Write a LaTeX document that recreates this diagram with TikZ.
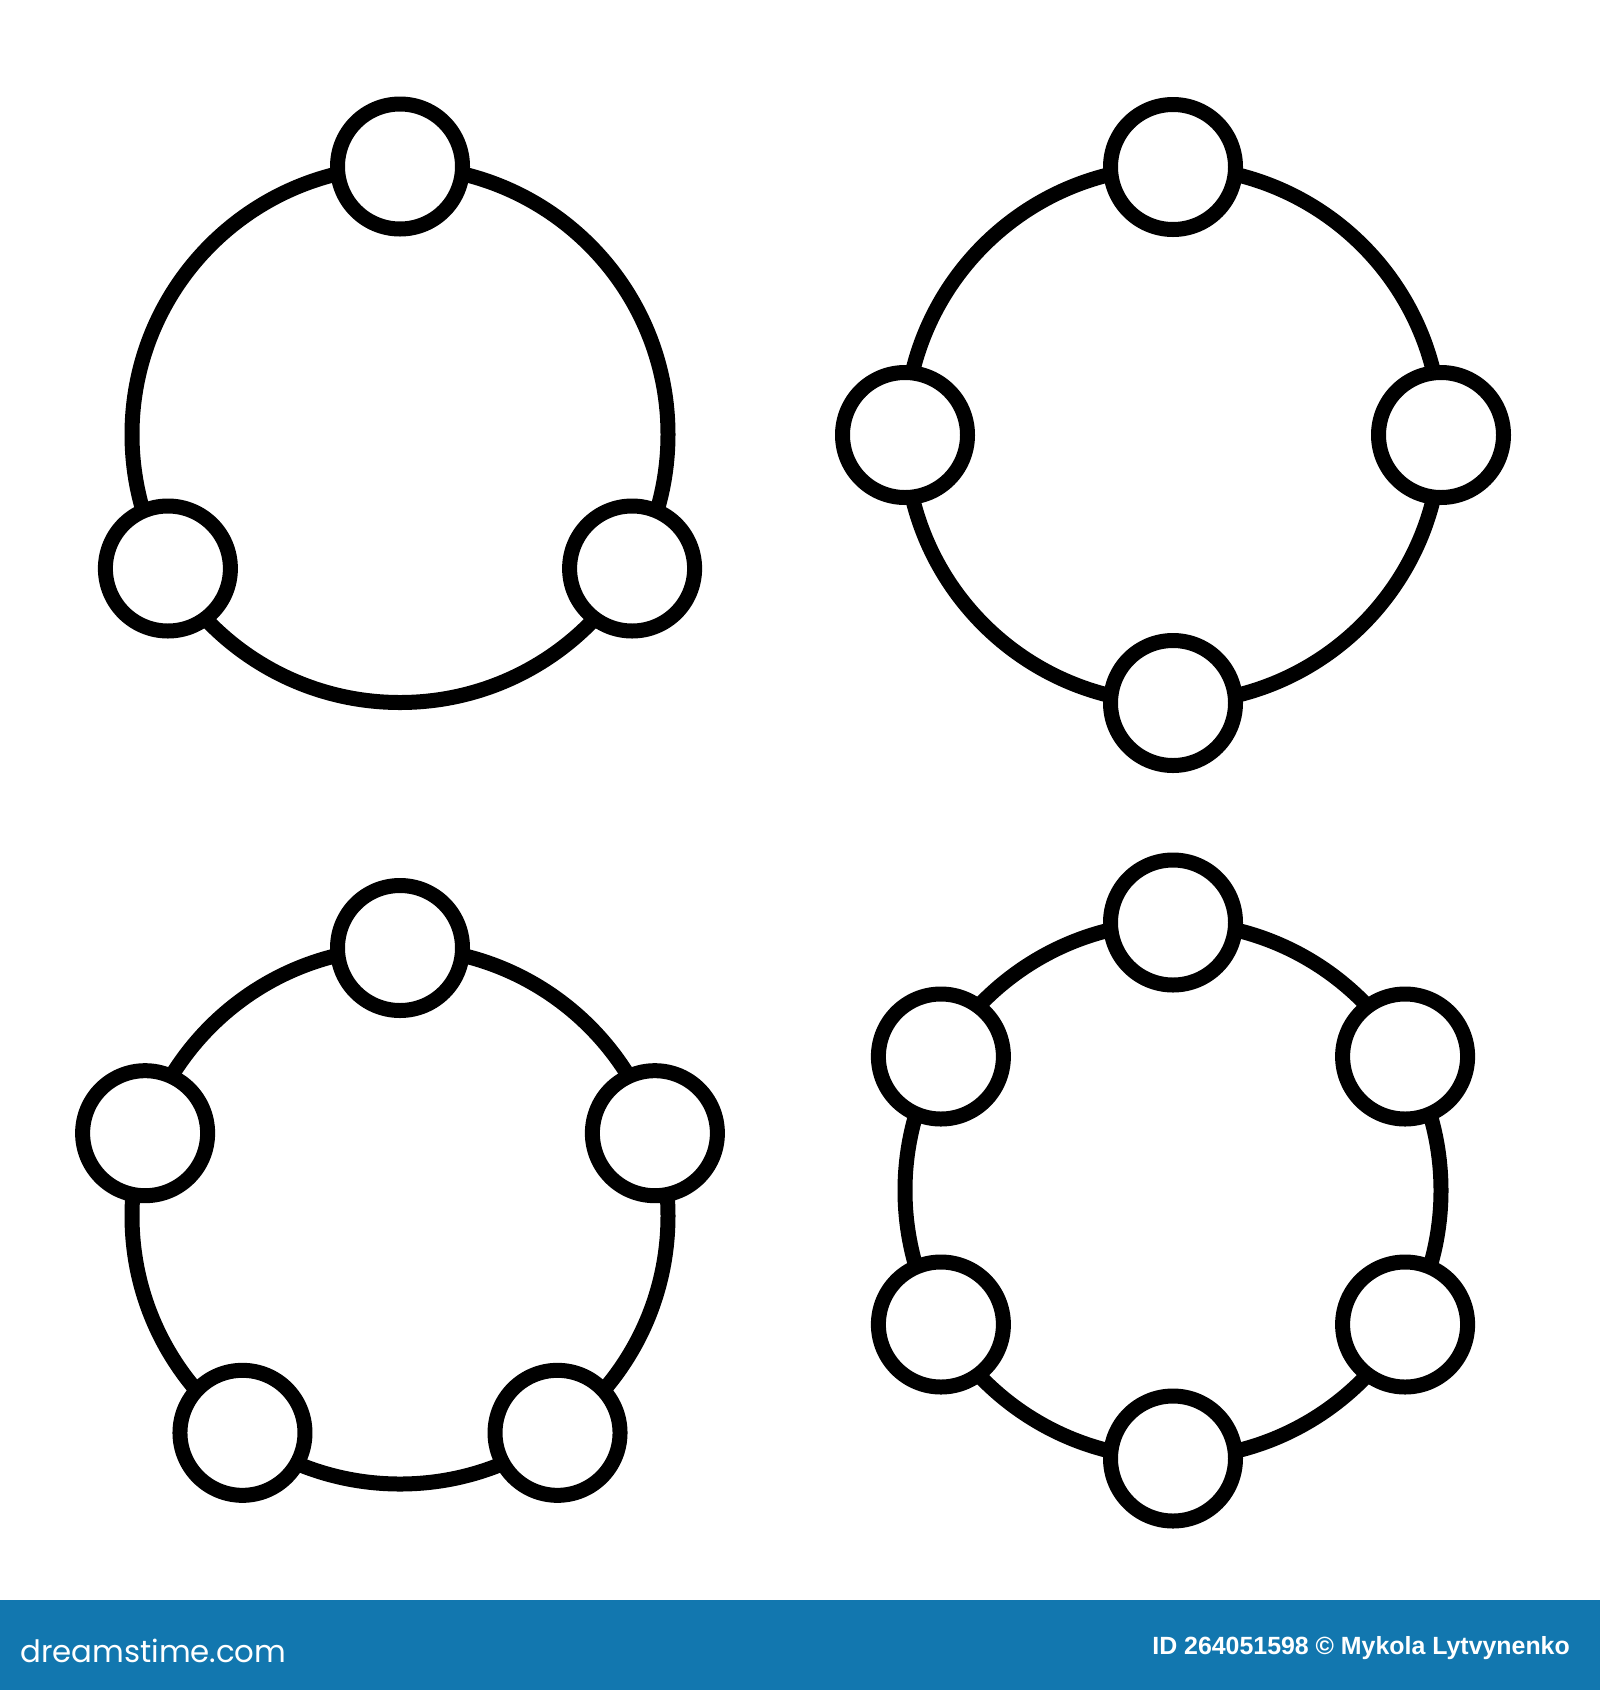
\documentclass[tikz,border=0pt]{standalone}
\usepackage{fontspec}
\usetikzlibrary{calc}
\newfontfamily\logofont{Poppins}
\newfontfamily\idfont{Liberation Sans}
\definecolor{bannerblue}{RGB}{18,119,175}
\begin{document}
\begin{tikzpicture}[x=1pt,y=-1pt,
  ring/.style={draw=black,line width=15pt},
  dot/.style={circle,draw=black,fill=white,line width=15pt,minimum size=125pt,inner sep=0pt,outer sep=0pt}]
\useasboundingbox (0,0) rectangle (1600,1690);
\fill[white] (0,0) rectangle (1600,1690);
\fill[bannerblue] (0,1600) rectangle (1600,1690);
\foreach \cx/\cy/\n [count=\k] in {400/434.5/3, 1173/435/4, 400/1216/5, 1173/1190.5/6} {
  \coordinate (c\k) at (\cx,\cy);
  \draw[ring] (c\k) circle (268);
  \foreach \i in {1,...,\n} {
    \node[dot] (d\k-\i) at ($(c\k)+({-90+360*(\i-1)/\n}:268)$) {};
  }
}
\node[anchor=base west,text=white,inner sep=0pt,font=\logofont\fontsize{30.8}{32}\selectfont] (logo) at (20,1662) {dreamstime.com};
\node[anchor=base east,text=white,inner sep=0pt,font=\idfont\bfseries\fontsize{24.9}{26}\selectfont] (credit) at (1570,1654) {ID 264051598 © Mykola Lytvynenko};
\end{tikzpicture}
\end{document}
